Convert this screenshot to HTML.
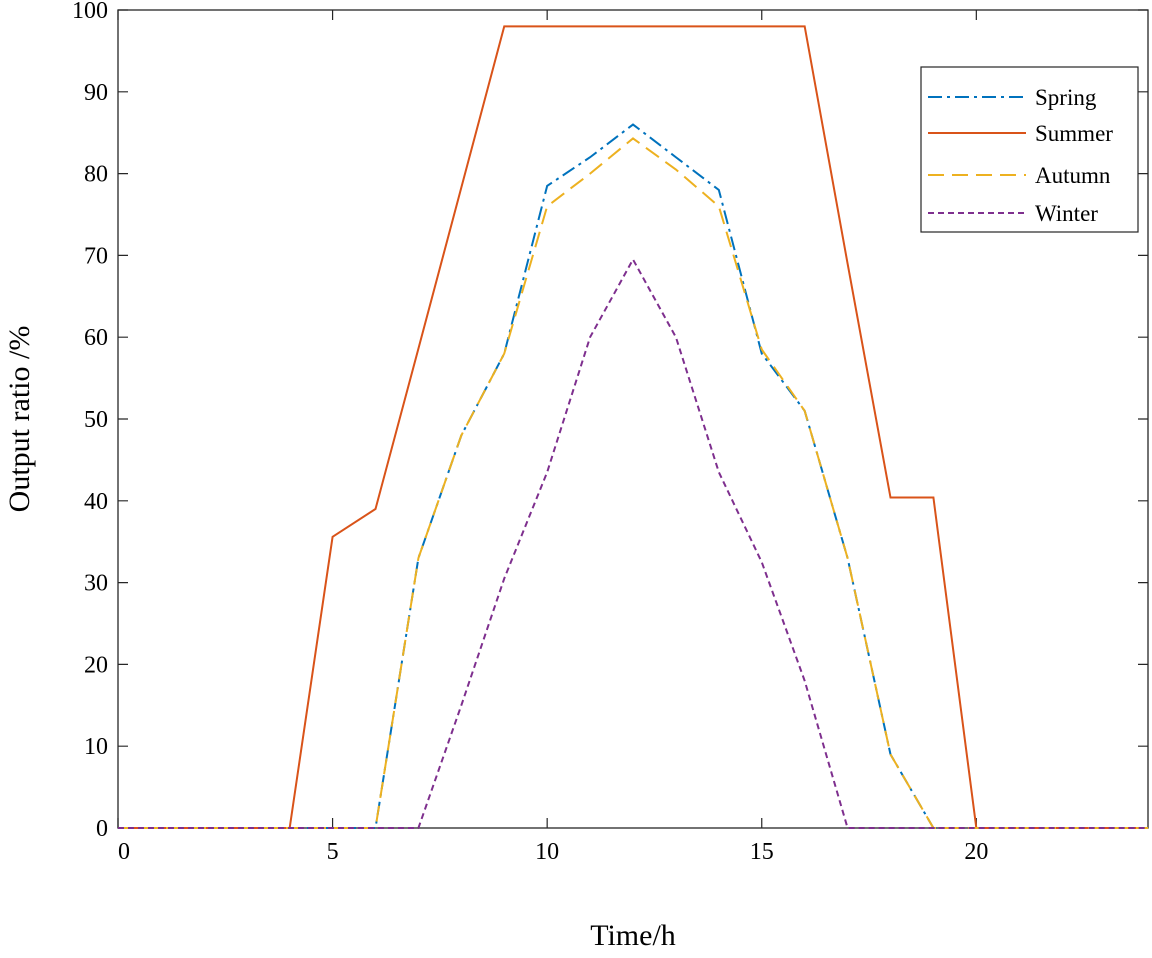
<!DOCTYPE html>
<html><head><meta charset="utf-8"><style>
body{margin:0;background:#fff;}
svg text{font-family:"Liberation Serif",serif;fill:#000;}
</style></head><body>
<svg id="c" width="1152" height="953" xmlns="http://www.w3.org/2000/svg"></svg>
<script>
const hours=[0,1,2,3,4,5,6,7,8,9,10,11,12,13,14,15,16,17,18,19,20,21,22,23,24];
const spring=[0,0,0,0,0,0,0,33,48,58,78.5,82,86,82,78,58,51,33,9,0,0,0,0,0,0];
const summer=[0,0,0,0,0,35.6,39,58.6,78.3,98,98,98,98,98,98,98,98,69,40.4,40.4,0,0,0,0,0];
const autumn=[0,0,0,0,0,0,0,33,48,58,76,80,84.3,80.5,76,58.5,51,33,9,0,0,0,0,0,0];
const winter=[0,0,0,0,0,0,0,0,15,30.5,43.5,60,69.5,60,43.5,32.5,18,0,0,0,0,0,0,0,0];
const xTicks=[0,5,10,15,20];
const yTicks=[0,10,20,30,40,50,60,70,80,90,100];
const L=118,R=1148,T=10,B=828;
const sx=v=>L+(v-0)/24*(R-L);
const sy=v=>B-v/100*(B-T);
const svg=document.getElementById('c');
const NS='http://www.w3.org/2000/svg';
function mk(tag,attrs,parent){const e=document.createElementNS(NS,tag);for(const k in attrs)e.setAttribute(k,attrs[k]);(parent||svg).appendChild(e);return e;}
const frame=mk('rect',{x:L,y:T,width:R-L,height:B-T,fill:'none',stroke:'#262626','stroke-width':1.3});


xTicks.forEach(t=>{
  const x=sx(t);
  const tk=mk('path',{d:`M${x},${B}V${B-10}M${x},${T}V${T+10}`,stroke:'#262626','stroke-width':1.2});
  
  
  const tx=mk('text',{x:x+(t===0?6:0),y:B+31,'text-anchor':'middle','font-size':24});
  tx.textContent=t;
  
  
});
yTicks.forEach(t=>{
  const y=sy(t);
  const tk=mk('path',{d:`M${L},${y}H${L+10}M${R},${y}H${R-10}`,stroke:'#262626','stroke-width':1.2});
  
  
  const tx=mk('text',{x:L-10,y:y+8,'text-anchor':'end','font-size':24});
  tx.textContent=t;
  
  
});
const xt=mk('text',{x:633,y:945,'text-anchor':'middle','font-size':30});
xt.textContent='Time/h';


const yt=mk('text',{x:0,y:0,'text-anchor':'middle','font-size':30,transform:'translate(29,419) rotate(-90)'});
yt.textContent='Output ratio /%';


const series=[
 {name:'Spring',data:spring,color:'#0072BD',dash:'14,5,3,5'},
 {name:'Summer',data:summer,color:'#D95319',dash:''},
 {name:'Autumn',data:autumn,color:'#EDB120',dash:'16,8'},
 {name:'Winter',data:winter,color:'#7E2F8E',dash:'6,4'}];
series.forEach(s=>{
  const d=s.data.map((v,i)=>(i?'L':'M')+sx(hours[i])+','+sy(v)).join('');
  const p=mk('path',{d,fill:'none',stroke:s.color,'stroke-width':2,'stroke-dasharray':s.dash});
  
  
});
const lg=mk('rect',{x:921,y:67,width:217,height:165,fill:'#fff',stroke:'#262626','stroke-width':1.2});


const ly=[97,133,175,213];
series.forEach((s,i)=>{
  const l=mk('path',{d:`M928,${ly[i]}H1026`,stroke:s.color,'stroke-width':2,'stroke-dasharray':s.dash});
  
  
  const t=mk('text',{x:1035,y:ly[i]+8,'font-size':23});
  t.textContent=s.name;
  
  
});
</script>
</body></html>
